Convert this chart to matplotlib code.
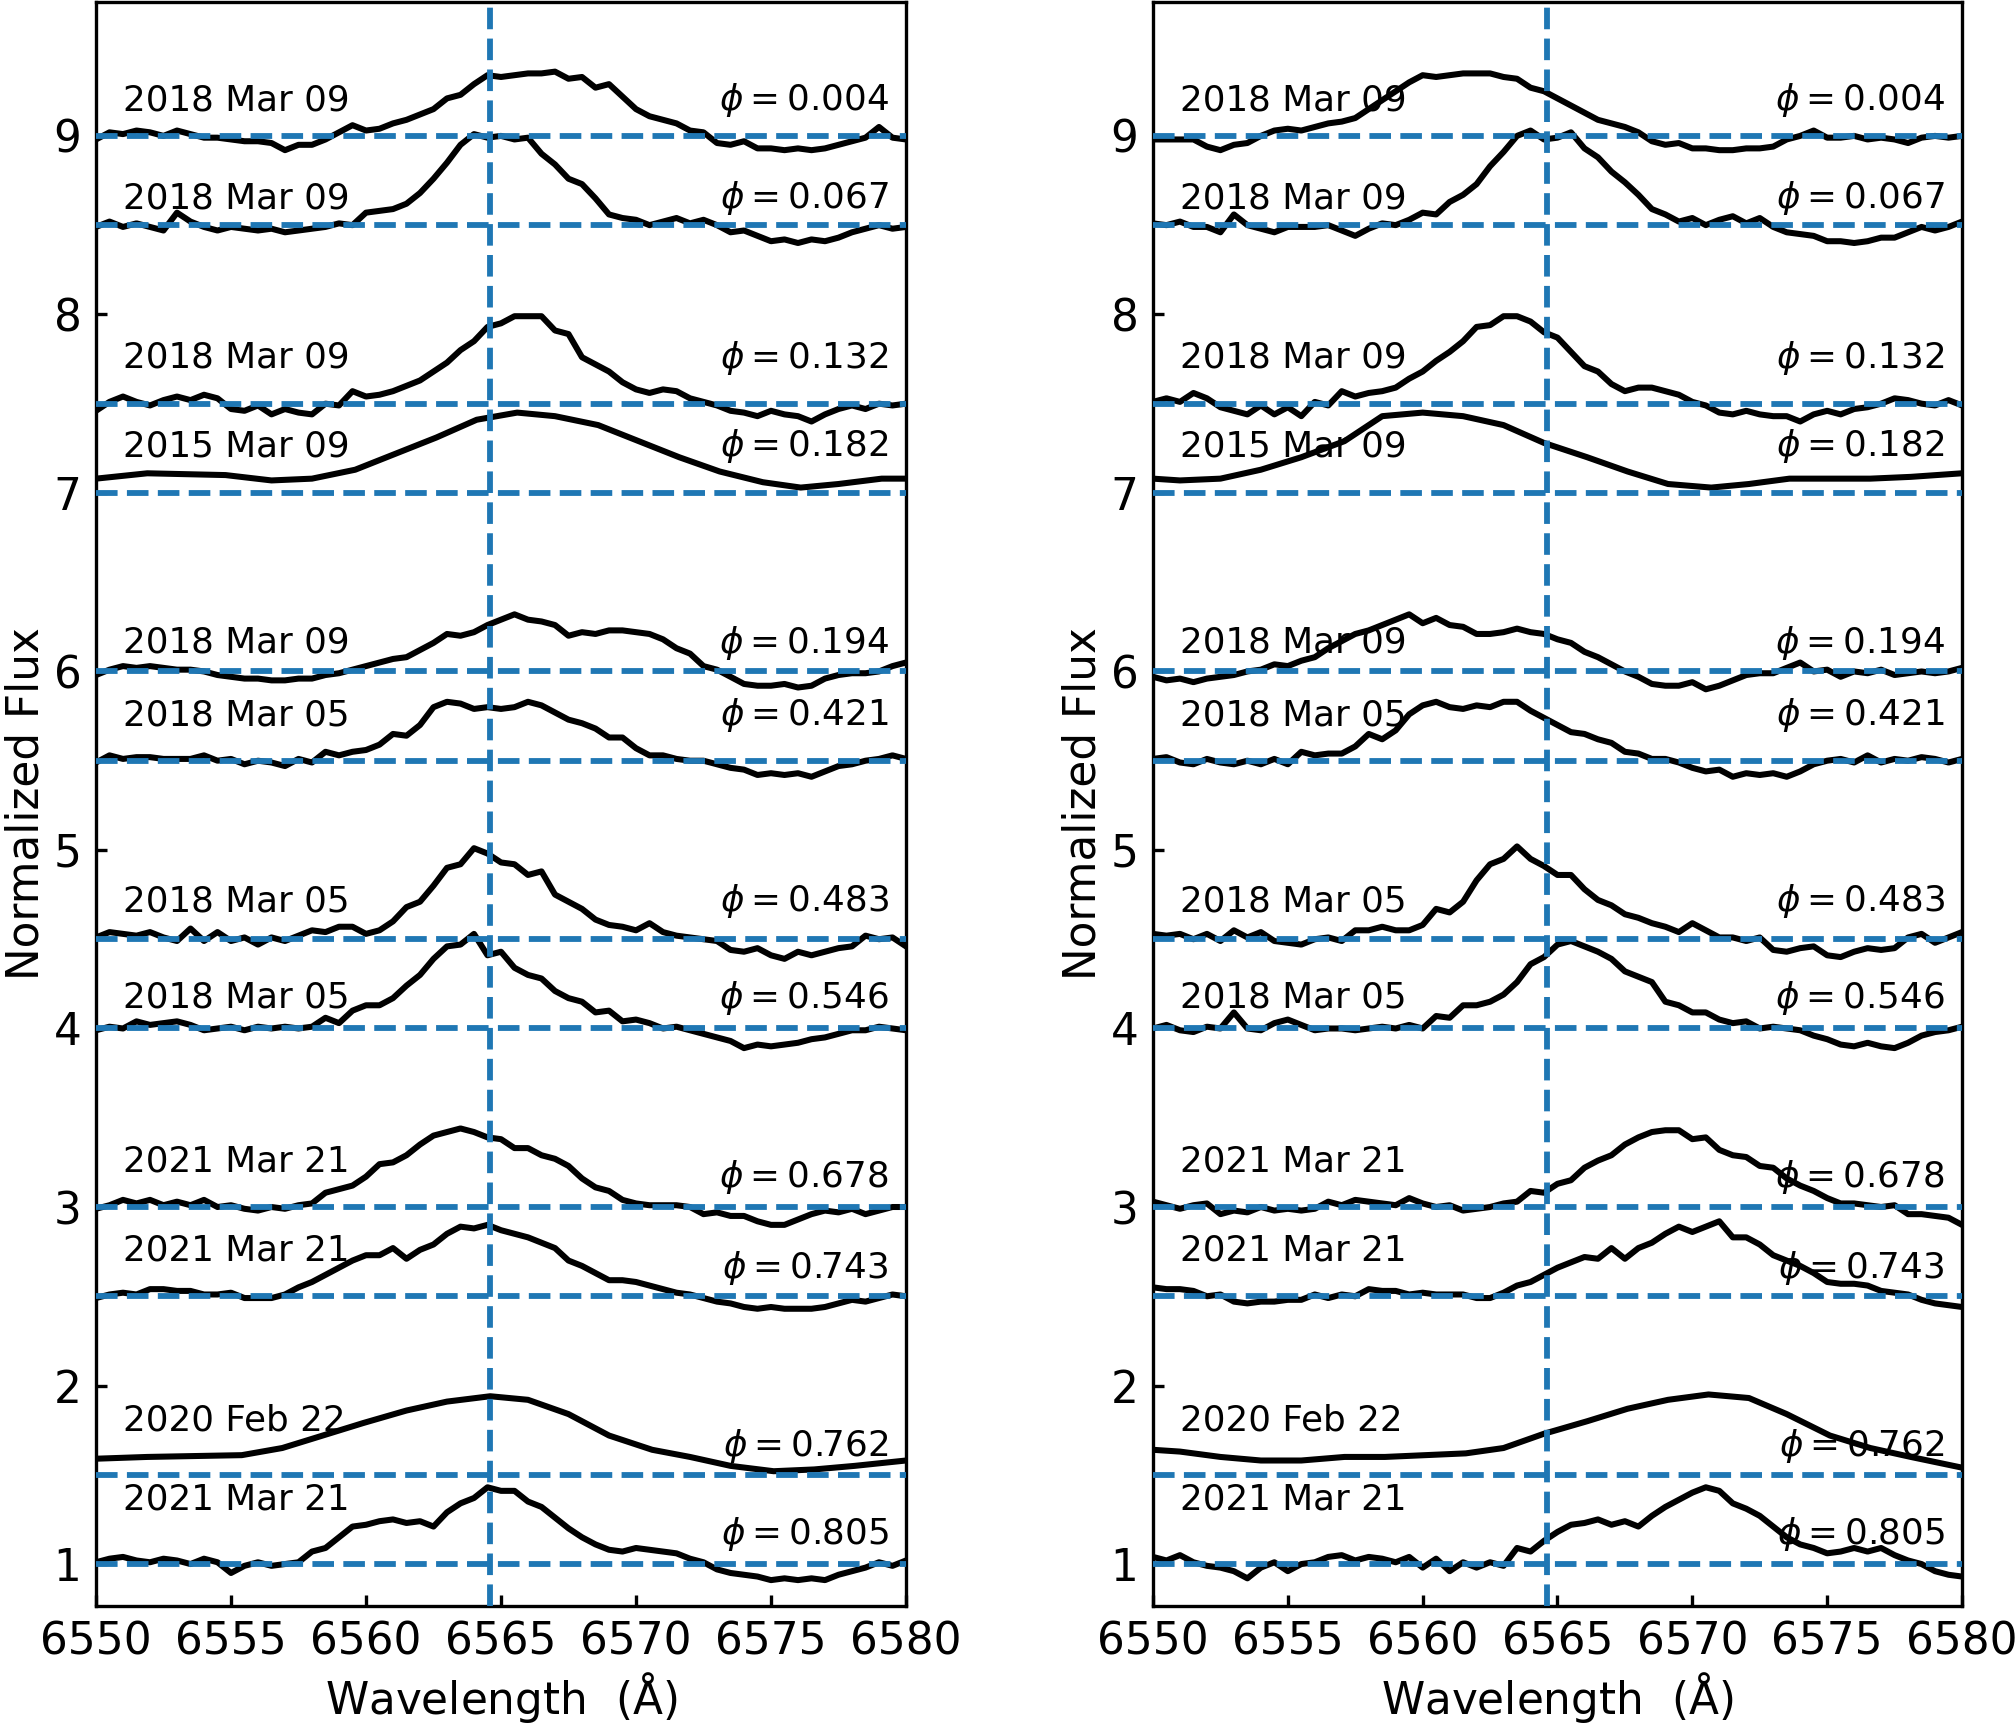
import numpy as np
import matplotlib
matplotlib.use("Agg")
import matplotlib.pyplot as plt

# ---------------- data ----------------
wave = np.arange(6550.0, 6580.01, 0.5)   # sampling grid of the high-res spectra
line_center = 6564.6

dates = ['2018 Mar 09', '2018 Mar 09', '2018 Mar 09', '2015 Mar 09',
         '2018 Mar 09', '2018 Mar 05', '2018 Mar 05', '2018 Mar 05',
         '2021 Mar 21', '2021 Mar 21', '2020 Feb 22', '2021 Mar 21']
phases = ['0.004', '0.067', '0.132', '0.182', '0.194', '0.421',
          '0.483', '0.546', '0.678', '0.743', '0.762', '0.805']
baselines = [9.0, 8.5, 7.5, 7.0, 6.0, 5.5, 4.5, 4.0, 3.0, 2.5, 1.5, 1.0]

# ---- left panel (observed frame), flux above baseline ----
L_004 = [-0.02, 0.02, 0.01, 0.03, 0.02, 0.00, 0.03, 0.01, -0.01, -0.01, -0.02, -0.03, -0.03, -0.04, -0.08, -0.05,
         -0.05, -0.02, 0.02, 0.06, 0.03, 0.04, 0.07, 0.09, 0.12, 0.15, 0.21, 0.23, 0.29, 0.34, 0.33, 0.34,
         0.35, 0.35, 0.36, 0.32, 0.33, 0.27, 0.29, 0.22, 0.15, 0.11, 0.09, 0.07, 0.03, 0.02, -0.04, -0.05,
         -0.03, -0.07, -0.07, -0.08, -0.07, -0.08, -0.07, -0.05, -0.03, -0.01, 0.05, -0.01, -0.02]
L_067 = [-0.01, 0.02, -0.01, 0.01, -0.01, -0.03, 0.07, 0.02, -0.01, -0.03, -0.01, -0.02, -0.03, -0.02, -0.04, -0.03,
         -0.02, -0.01, 0.01, 0.00, 0.07, 0.08, 0.09, 0.12, 0.18, 0.26, 0.35, 0.45, 0.51, 0.49, 0.50, 0.48,
         0.49, 0.40, 0.34, 0.26, 0.23, 0.15, 0.06, 0.04, 0.03, 0.00, 0.02, 0.04, 0.01, 0.03, 0.00, -0.04,
         -0.03, -0.06, -0.09, -0.08, -0.10, -0.08, -0.09, -0.07, -0.04, -0.02, 0.00, -0.02, -0.01]
L_132 = [-0.04, 0.01, 0.04, 0.01, -0.01, 0.02, 0.04, 0.02, 0.05, 0.03, -0.03, -0.04, -0.01, -0.06, -0.03, -0.05,
         -0.06, 0.00, -0.01, 0.07, 0.04, 0.05, 0.07, 0.10, 0.13, 0.18, 0.23, 0.30, 0.35, 0.43, 0.45, 0.49,
         0.49, 0.49, 0.41, 0.39, 0.26, 0.22, 0.18, 0.12, 0.08, 0.06, 0.08, 0.07, 0.03, 0.01, -0.01, -0.04,
         -0.05, -0.07, -0.04, -0.06, -0.07, -0.10, -0.06, -0.03, -0.01, -0.03, 0.00, -0.01, 0.00]
L_182_wave = [6550.0, 6551.9, 6554.8, 6556.5, 6558.0, 6559.6, 6561.1, 6562.6, 6564.1, 6565.6,
              6567.0, 6568.6, 6570.1, 6571.6, 6573.1, 6574.7, 6576.1, 6577.5, 6579.1, 6580.0]
L_182 = [0.08, 0.11, 0.10, 0.07, 0.08, 0.13, 0.22, 0.31, 0.41, 0.45,
         0.43, 0.38, 0.29, 0.20, 0.12, 0.06, 0.03, 0.05, 0.08, 0.08]
L_194 = [-0.02, 0.01, 0.03, 0.02, 0.03, 0.02, 0.01, 0.01, 0.00, -0.02, -0.03, -0.04, -0.04, -0.05, -0.05, -0.04,
         -0.04, -0.02, -0.01, 0.01, 0.03, 0.05, 0.07, 0.08, 0.12, 0.16, 0.21, 0.20, 0.22, 0.26, 0.29, 0.32,
         0.29, 0.28, 0.26, 0.20, 0.22, 0.21, 0.23, 0.23, 0.22, 0.21, 0.18, 0.13, 0.10, 0.03, 0.01, -0.03,
         -0.07, -0.08, -0.08, -0.07, -0.09, -0.08, -0.04, -0.02, -0.01, -0.01, 0.00, 0.03, 0.05]
L_421 = [-0.01, 0.03, 0.01, 0.02, 0.02, 0.01, 0.01, 0.01, 0.03, 0.00, 0.01, -0.02, 0.00, -0.01, -0.03, 0.01,
         -0.01, 0.05, 0.03, 0.05, 0.06, 0.09, 0.15, 0.14, 0.20, 0.30, 0.33, 0.32, 0.29, 0.30, 0.29, 0.30,
         0.33, 0.31, 0.27, 0.23, 0.21, 0.18, 0.13, 0.13, 0.07, 0.03, 0.03, 0.01, 0.00, 0.00, -0.02, -0.04,
         -0.05, -0.08, -0.07, -0.08, -0.07, -0.09, -0.06, -0.03, -0.02, 0.00, 0.01, 0.03, 0.01]
L_483 = [0.01, 0.04, 0.03, 0.02, 0.04, 0.01, -0.01, 0.06, -0.01, 0.04, -0.01, 0.01, -0.03, 0.01, -0.01, 0.02,
         0.05, 0.04, 0.07, 0.07, 0.03, 0.05, 0.10, 0.18, 0.21, 0.30, 0.40, 0.42, 0.51, 0.48, 0.43, 0.42,
         0.36, 0.38, 0.25, 0.21, 0.17, 0.11, 0.08, 0.07, 0.05, 0.09, 0.04, 0.02, 0.01, 0.00, -0.01, -0.06,
         -0.07, -0.05, -0.09, -0.11, -0.07, -0.09, -0.07, -0.05, -0.04, 0.02, 0.00, 0.01, -0.04]
L_546 = [-0.01, 0.01, 0.00, 0.04, 0.02, 0.03, 0.04, 0.02, -0.01, 0.00, 0.01, -0.01, 0.01, 0.00, 0.01, 0.00,
         0.01, 0.06, 0.03, 0.10, 0.13, 0.13, 0.17, 0.24, 0.30, 0.39, 0.46, 0.47, 0.53, 0.41, 0.43, 0.34,
         0.30, 0.28, 0.21, 0.17, 0.15, 0.09, 0.10, 0.04, 0.05, 0.03, 0.00, 0.01, -0.01, -0.03, -0.05, -0.07,
         -0.11, -0.09, -0.10, -0.09, -0.08, -0.06, -0.05, -0.03, -0.01, -0.01, 0.01, 0.00, -0.01]
L_678 = [-0.01, 0.01, 0.04, 0.02, 0.04, 0.01, 0.03, 0.01, 0.04, 0.00, 0.01, -0.01, -0.02, 0.00, -0.01, 0.01,
         0.02, 0.08, 0.10, 0.12, 0.17, 0.24, 0.25, 0.29, 0.35, 0.40, 0.42, 0.44, 0.42, 0.39, 0.38, 0.33,
         0.33, 0.29, 0.27, 0.23, 0.16, 0.11, 0.09, 0.04, 0.02, 0.01, 0.01, 0.01, 0.00, -0.04, -0.03, -0.05,
         -0.05, -0.08, -0.10, -0.10, -0.07, -0.04, -0.02, -0.03, -0.01, -0.04, -0.02, 0.00, 0.00]
L_743 = [-0.01, 0.01, 0.02, 0.01, 0.04, 0.04, 0.03, 0.03, 0.01, 0.01, 0.02, -0.01, -0.01, -0.01, 0.01, 0.05,
         0.08, 0.12, 0.16, 0.20, 0.23, 0.23, 0.27, 0.21, 0.26, 0.29, 0.35, 0.39, 0.38, 0.40, 0.37, 0.35,
         0.33, 0.30, 0.27, 0.20, 0.17, 0.13, 0.09, 0.09, 0.08, 0.06, 0.04, 0.02, 0.01, -0.01, -0.03, -0.04,
         -0.06, -0.07, -0.06, -0.07, -0.07, -0.07, -0.06, -0.04, -0.02, -0.03, -0.01, 0.01, 0.00]
L_762_wave = [6550.0, 6551.9, 6555.4, 6556.9, 6558.4, 6559.9, 6561.5, 6563.0, 6564.6, 6566.0,
              6567.5, 6569.0, 6570.6, 6572.0, 6573.5, 6575.1, 6576.6, 6578.1, 6580.0]
L_762 = [0.09, 0.10, 0.11, 0.15, 0.22, 0.29, 0.36, 0.41, 0.44, 0.42,
         0.34, 0.22, 0.14, 0.10, 0.05, 0.02, 0.03, 0.05, 0.08]
L_805 = [0.01, 0.03, 0.04, 0.02, 0.01, 0.03, 0.02, 0.00, 0.03, 0.01, -0.05, -0.01, 0.01, -0.01, 0.00, 0.01,
         0.07, 0.09, 0.15, 0.21, 0.22, 0.24, 0.25, 0.23, 0.24, 0.21, 0.29, 0.34, 0.37, 0.43, 0.41, 0.41,
         0.35, 0.32, 0.26, 0.20, 0.15, 0.11, 0.08, 0.07, 0.09, 0.08, 0.07, 0.06, 0.03, 0.01, -0.03, -0.05,
         -0.06, -0.07, -0.09, -0.08, -0.09, -0.08, -0.09, -0.06, -0.04, -0.02, 0.01, -0.01, 0.02]

# ---- right panel (shifted frame), flux above baseline ----
R_004 = [-0.02, -0.02, -0.02, -0.02, -0.06, -0.08, -0.05, -0.04, 0.00, 0.03, 0.04, 0.03, 0.05, 0.07, 0.08, 0.10,
         0.15, 0.20, 0.25, 0.30, 0.34, 0.33, 0.34, 0.35, 0.35, 0.35, 0.33, 0.32, 0.27, 0.25, 0.21, 0.17,
         0.13, 0.09, 0.07, 0.05, 0.02, -0.03, -0.05, -0.04, -0.07, -0.07, -0.08, -0.08, -0.07, -0.07, -0.06, -0.02,
         0.00, 0.03, -0.01, -0.01, 0.00, -0.02, -0.01, -0.02, -0.04, -0.01, 0.00, -0.01, 0.00]
R_067 = [0.01, 0.00, 0.02, -0.01, -0.01, -0.04, 0.06, 0.00, -0.02, -0.04, -0.01, -0.01, -0.01, 0.00, -0.03, -0.06,
         -0.02, 0.01, 0.00, 0.03, 0.07, 0.06, 0.13, 0.17, 0.23, 0.33, 0.41, 0.50, 0.53, 0.48, 0.49, 0.52,
         0.43, 0.38, 0.30, 0.24, 0.17, 0.09, 0.06, 0.02, 0.04, 0.00, 0.03, 0.05, 0.01, 0.04, -0.01, -0.04,
         -0.05, -0.06, -0.09, -0.09, -0.10, -0.09, -0.07, -0.07, -0.04, -0.01, -0.03, -0.01, 0.02]
R_132 = [0.01, 0.03, 0.01, 0.06, 0.03, -0.02, -0.04, -0.06, -0.01, -0.06, -0.02, -0.07, 0.01, -0.01, 0.07, 0.04,
         0.06, 0.07, 0.09, 0.14, 0.18, 0.24, 0.29, 0.35, 0.43, 0.44, 0.49, 0.49, 0.46, 0.40, 0.37, 0.29,
         0.21, 0.18, 0.11, 0.07, 0.09, 0.09, 0.07, 0.05, 0.01, -0.01, -0.05, -0.06, -0.04, -0.06, -0.07, -0.07,
         -0.10, -0.06, -0.04, -0.06, -0.03, -0.02, 0.00, 0.03, 0.02, 0.00, -0.01, 0.02, -0.01]
R_182_wave = [6550.0, 6551.0, 6552.5, 6554.0, 6555.5, 6557.1, 6558.5, 6560.0, 6561.5, 6563.0, 6564.5,
              6566.1, 6567.6, 6569.1, 6570.7, 6572.1, 6573.6, 6575.1, 6576.6, 6578.1, 6580.0]
R_182 = [0.08, 0.07, 0.08, 0.13, 0.20, 0.29, 0.43, 0.45, 0.43, 0.38, 0.28,
         0.20, 0.12, 0.05, 0.03, 0.05, 0.08, 0.08, 0.08, 0.09, 0.11]
R_194 = [-0.03, -0.05, -0.04, -0.06, -0.04, -0.03, -0.02, 0.00, 0.01, 0.04, 0.03, 0.06, 0.08, 0.13, 0.17, 0.21,
         0.23, 0.26, 0.29, 0.32, 0.27, 0.30, 0.26, 0.25, 0.21, 0.21, 0.22, 0.24, 0.22, 0.21, 0.18, 0.16,
         0.11, 0.08, 0.04, 0.00, -0.03, -0.07, -0.08, -0.08, -0.06, -0.10, -0.08, -0.05, -0.02, -0.01, -0.01, 0.02,
         0.05, 0.00, 0.01, -0.03, 0.00, -0.01, 0.01, -0.02, -0.01, 0.00, -0.01, 0.00, 0.02]
R_421 = [0.01, 0.02, -0.01, -0.02, 0.01, -0.01, -0.02, 0.00, -0.02, 0.01, -0.02, 0.05, 0.03, 0.04, 0.04, 0.08,
         0.15, 0.12, 0.17, 0.26, 0.31, 0.33, 0.30, 0.29, 0.31, 0.30, 0.33, 0.33, 0.28, 0.24, 0.20, 0.16,
         0.15, 0.12, 0.10, 0.05, 0.04, 0.01, 0.01, -0.01, -0.04, -0.06, -0.05, -0.09, -0.07, -0.08, -0.07, -0.09,
         -0.06, -0.02, 0.00, 0.01, -0.01, 0.03, -0.01, 0.01, 0.00, 0.02, 0.01, -0.01, 0.01]
R_483 = [0.03, 0.02, 0.03, 0.00, 0.03, -0.01, 0.05, 0.01, 0.04, -0.01, -0.02, -0.03, 0.00, 0.01, -0.01, 0.05,
         0.05, 0.07, 0.05, 0.05, 0.08, 0.17, 0.15, 0.21, 0.33, 0.42, 0.45, 0.52, 0.45, 0.41, 0.36, 0.36,
         0.28, 0.22, 0.19, 0.14, 0.12, 0.09, 0.07, 0.04, 0.09, 0.05, 0.01, 0.01, -0.01, 0.01, -0.06, -0.07,
         -0.05, -0.04, -0.09, -0.10, -0.07, -0.05, -0.06, -0.05, 0.01, 0.03, -0.02, 0.01, 0.04]
R_546 = [0.00, 0.02, -0.01, -0.02, 0.01, 0.00, 0.09, 0.00, -0.01, 0.03, 0.05, 0.02, -0.01, 0.00, 0.00, -0.01,
         0.00, 0.01, 0.00, 0.02, 0.00, 0.07, 0.06, 0.13, 0.13, 0.15, 0.19, 0.26, 0.36, 0.40, 0.47, 0.49,
         0.46, 0.43, 0.39, 0.32, 0.29, 0.26, 0.15, 0.13, 0.09, 0.09, 0.05, 0.03, 0.04, 0.00, 0.01, 0.00,
         -0.01, -0.04, -0.06, -0.09, -0.10, -0.08, -0.10, -0.11, -0.08, -0.04, -0.02, -0.01, 0.01]
R_678 = [0.03, 0.01, -0.01, 0.01, 0.02, -0.04, -0.02, -0.03, 0.00, -0.02, -0.01, -0.02, -0.01, 0.03, 0.01, 0.04,
         0.03, 0.02, 0.01, 0.05, 0.02, 0.00, 0.01, -0.02, -0.01, 0.00, 0.02, 0.03, 0.09, 0.08, 0.13, 0.15,
         0.22, 0.26, 0.29, 0.35, 0.39, 0.42, 0.43, 0.43, 0.38, 0.39, 0.32, 0.29, 0.28, 0.23, 0.22, 0.16,
         0.12, 0.09, 0.05, 0.02, 0.02, 0.01, 0.00, 0.01, -0.04, -0.04, -0.05, -0.06, -0.10]
R_743 = [0.05, 0.04, 0.04, 0.03, 0.00, 0.01, -0.03, -0.04, -0.03, -0.03, -0.02, -0.02, 0.01, -0.01, 0.01, 0.00,
         0.04, 0.03, 0.03, 0.01, 0.02, 0.01, 0.01, 0.01, -0.01, -0.01, 0.02, 0.06, 0.08, 0.12, 0.16, 0.19,
         0.22, 0.21, 0.27, 0.21, 0.27, 0.30, 0.35, 0.39, 0.36, 0.39, 0.42, 0.33, 0.33, 0.29, 0.23, 0.20,
         0.17, 0.13, 0.08, 0.07, 0.07, 0.06, 0.03, 0.02, 0.01, -0.02, -0.04, -0.05, -0.06]
R_762_wave = [6550.0, 6551.0, 6552.5, 6554.0, 6555.5, 6557.1, 6558.6, 6560.1, 6561.6, 6563.0, 6564.5,
              6566.1, 6567.6, 6569.1, 6570.6, 6572.1, 6573.5, 6575.1, 6576.6, 6578.1, 6580.0]
R_762 = [0.14, 0.13, 0.10, 0.08, 0.08, 0.10, 0.10, 0.11, 0.12, 0.15, 0.23,
         0.30, 0.37, 0.42, 0.45, 0.43, 0.34, 0.22, 0.15, 0.10, 0.04]
R_805 = [0.04, 0.02, 0.05, 0.01, -0.01, -0.02, -0.04, -0.08, -0.02, 0.01, -0.04, 0.00, 0.01, 0.04, 0.05, 0.02,
         0.04, 0.03, 0.01, 0.04, -0.02, 0.03, -0.04, 0.01, -0.02, 0.01, -0.01, 0.09, 0.07, 0.13, 0.18, 0.22,
         0.23, 0.25, 0.22, 0.24, 0.21, 0.27, 0.32, 0.36, 0.40, 0.43, 0.41, 0.34, 0.31, 0.27, 0.21, 0.15,
         0.11, 0.09, 0.06, 0.07, 0.09, 0.07, 0.09, 0.05, 0.02, 0.00, -0.04, -0.06, -0.07]

left_spectra = [(wave, L_004), (wave, L_067), (wave, L_132), (L_182_wave, L_182),
                (wave, L_194), (wave, L_421), (wave, L_483), (wave, L_546),
                (wave, L_678), (wave, L_743), (L_762_wave, L_762), (wave, L_805)]
right_spectra = [(wave, R_004), (wave, R_067), (wave, R_132), (R_182_wave, R_182),
                 (wave, R_194), (wave, R_421), (wave, R_483), (wave, R_546),
                 (wave, R_678), (wave, R_743), (R_762_wave, R_762), (wave, R_805)]

# ---------------- layout ----------------
date_y = [9.145, 8.595, 7.70, 7.205, 6.104, 5.70, 4.657, 4.116, 3.20, 2.70, 1.75, 1.307]
phase_y = [9.145, 8.595, 7.70, 7.205, 6.104, 5.70, 4.657, 4.116, 3.11, 2.60, 1.606, 1.11]

W, H = 2015, 1727
DPI = 300
fig = plt.figure(figsize=(W / DPI, H / DPI), dpi=DPI)
ax_bottom = (H - 1606) / H
ax_height = (1606 - 2) / H
ax1 = fig.add_axes([96 / W, ax_bottom, 810 / W, ax_height])
ax2 = fig.add_axes([1153 / W, ax_bottom, 809 / W, ax_height])

blue = '#1f77b4'
for ax, spectra in ((ax1, left_spectra), (ax2, right_spectra)):
    for (wv, fl), base in zip(spectra, baselines):
        ax.plot(wv, np.asarray(fl) + base, color='black', lw=1.45, zorder=2)
    for base in baselines:
        ax.axhline(base, color=blue, ls='--', lw=1.4, zorder=3)
    ax.axvline(line_center, color=blue, ls='--', lw=1.4, zorder=3)
    for d, p, yd, yp in zip(dates, phases, date_y, phase_y):
        ax.text(6551.0, yd, d, ha='left', va='baseline', fontsize=8.6, zorder=4)
        ax.text(6579.35, yp, r'$\phi = $' + r'$' + p + r'$', ha='right', va='baseline',
                fontsize=8.6, zorder=4)
    ax.set_xlim(6550, 6580)
    ax.set_ylim(0.765, 9.75)
    ax.set_xticks(np.arange(6550, 6581, 5))
    ax.set_yticks(np.arange(1, 10, 1))
    ax.tick_params(direction='in', length=2.7, width=0.8, labelsize=10.5)
    ax.set_xlabel(r'Wavelength  ($\mathrm{\AA}$)', fontsize=10.5, labelpad=1.5)
    ax.set_ylabel('Normalized Flux', fontsize=10.5, labelpad=1.5)

fig.savefig('out.png', dpi=DPI)
